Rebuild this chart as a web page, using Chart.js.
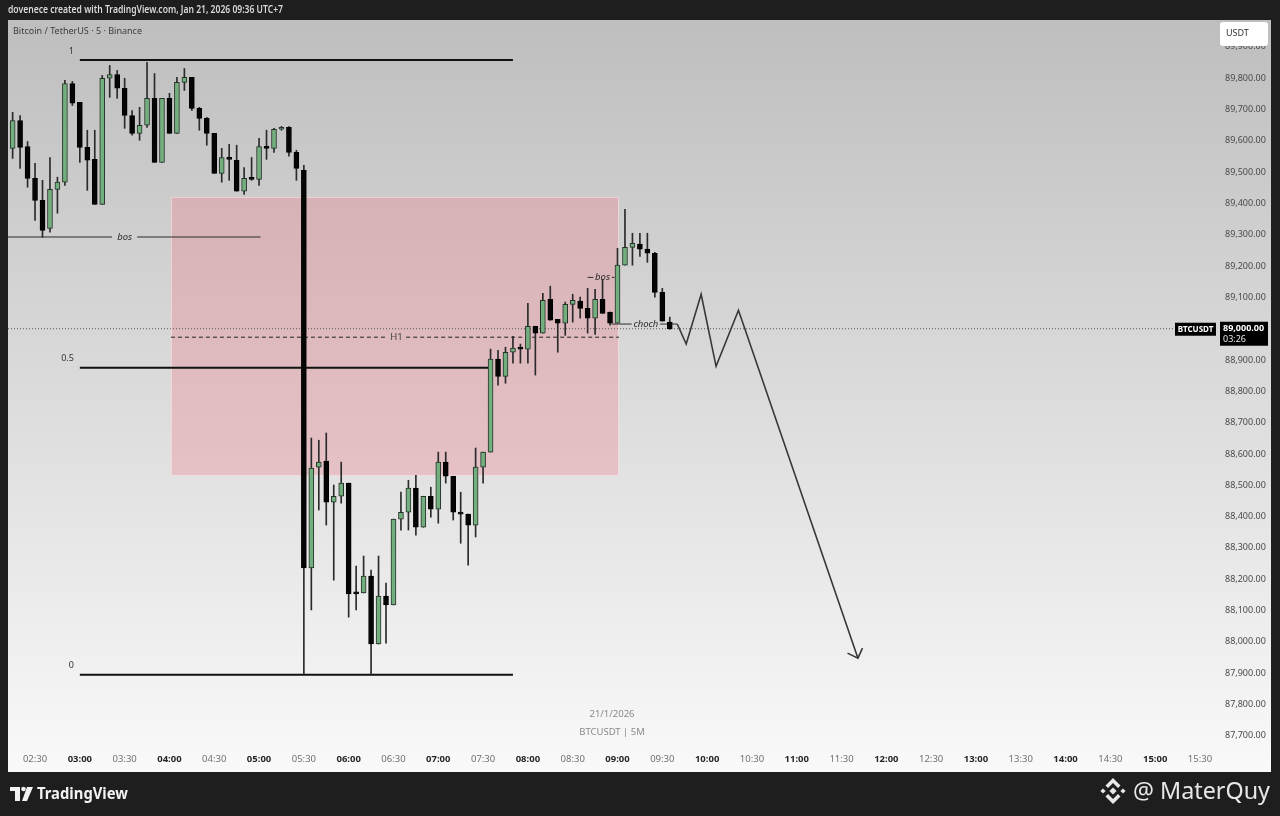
<!DOCTYPE html>
<html>
<head>
<meta charset="utf-8">
<title>BTCUSDT 5m</title>
<script src="https://cdn.jsdelivr.net/npm/chart.js@4.4.1/dist/chart.umd.min.js"></script>
<style>
  html, body { margin: 0; padding: 0; background: #1e1e1e; overflow: hidden; }
  canvas { display: block; }
</style>
</head>
<body>
<canvas id="chart" width="1280" height="816"></canvas>
<script>
// ===== BTCUSDT 5m — Binance, 21/1/2026 (UTC+7) =====

const times = [
  '02:15', '02:20', '02:25', '02:30', '02:35', '02:40', '02:45', '02:50', '02:55',
  '03:00', '03:05', '03:10', '03:15', '03:20', '03:25', '03:30', '03:35', '03:40', '03:45', '03:50', '03:55',
  '04:00', '04:05', '04:10', '04:15', '04:20', '04:25', '04:30', '04:35', '04:40', '04:45', '04:50', '04:55',
  '05:00', '05:05', '05:10', '05:15', '05:20', '05:25', '05:30', '05:35', '05:40', '05:45', '05:50', '05:55',
  '06:00', '06:05', '06:10', '06:15', '06:20', '06:25', '06:30', '06:35', '06:40', '06:45', '06:50', '06:55',
  '07:00', '07:05', '07:10', '07:15', '07:20', '07:25', '07:30', '07:35', '07:40', '07:45', '07:50', '07:55',
  '08:00', '08:05', '08:10', '08:15', '08:20', '08:25', '08:30', '08:35', '08:40', '08:45', '08:50', '08:55',
  '09:00', '09:05', '09:10', '09:15', '09:20', '09:25', '09:30', '09:35',
];

const opens = [
  89576, 89665, 89582, 89480, 89410, 89320, 89445, 89468, 89783, 89723,
  89579, 89541, 89397, 89800, 89812, 89768, 89681, 89624, 89650, 89736,
  89531, 89736, 89624, 89787, 89803, 89704, 89672, 89624, 89496, 89547,
  89538, 89439, 89480, 89477, 89582, 89576, 89637, 89643, 89563, 89506,
  88236, 88558, 88577, 88446, 88465, 88507, 88156, 88156, 88210, 87993,
  88146, 88118, 88392, 88414, 88491, 88366, 88465, 88424, 88574, 88529,
  88414, 88408, 88373, 88558, 88606, 88903, 88848, 88925, 88938, 88935,
  89008, 88986, 89094, 89030, 89018, 89078, 89088, 89065, 89034, 89094,
  89053, 89018, 89203, 89260, 89270, 89254, 89241, 89116, 89021,
];
const highs = [
  89691, 89681, 89598, 89528, 89474, 89547, 89484, 89793, 89790, 89723,
  89634, 89634, 89809, 89841, 89825, 89800, 89697, 89707, 89851, 89815,
  89736, 89752, 89803, 89831, 89803, 89707, 89675, 89624, 89576, 89589,
  89586, 89515, 89547, 89608, 89634, 89640, 89646, 89646, 89570, 89522,
  88651, 88644, 88667, 88501, 88574, 88507, 88242, 88274, 88229, 88274,
  88188, 88392, 88478, 88516, 88532, 88465, 88494, 88606, 88606, 88529,
  88478, 88408, 88619, 88606, 88935, 88931, 88941, 88976, 88951, 89081,
  89008, 89113, 89136, 89030, 89085, 89110, 89101, 89129, 89126, 89158,
  89053, 89257, 89381, 89305, 89305, 89305, 89244, 89129, 89037,
];
const lows = [
  89544, 89512, 89452, 89346, 89292, 89308, 89369, 89458, 89713, 89531,
  89442, 89397, 89397, 89739, 89736, 89640, 89618, 89602, 89643, 89531,
  89531, 89624, 89624, 89761, 89697, 89634, 89586, 89496, 89468, 89474,
  89439, 89429, 89474, 89458, 89541, 89563, 89634, 89551, 89474, 87894,
  88102, 88421, 88373, 88197, 88443, 88079, 88102, 88156, 87894, 87993,
  87996, 88118, 88357, 88357, 88341, 88366, 88398, 88379, 88507, 88389,
  88315, 88245, 88335, 88507, 88606, 88820, 88826, 88890, 88890, 88890,
  88852, 88986, 89027, 88925, 88979, 89021, 89034, 88986, 88982, 89049,
  89011, 89018, 89203, 89203, 89231, 89212, 89101, 89024, 88998,
];
const closes = [
  89665, 89579, 89480, 89410, 89314, 89445, 89468, 89783, 89720, 89579,
  89538, 89397, 89800, 89812, 89768, 89681, 89624, 89650, 89736, 89531,
  89736, 89624, 89787, 89803, 89704, 89672, 89624, 89496, 89547, 89541,
  89439, 89480, 89477, 89582, 89576, 89637, 89643, 89563, 89512, 88236,
  88555, 88574, 88446, 88465, 88507, 88153, 88153, 88210, 87993, 88146,
  88118, 88392, 88414, 88491, 88366, 88465, 88424, 88574, 88529, 88414,
  88408, 88373, 88558, 88606, 88903, 88848, 88925, 88938, 88935, 89008,
  88986, 89091, 89027, 89018, 89078, 89091, 89065, 89034, 89094, 89049,
  89018, 89203, 89260, 89273, 89254, 89241, 89116, 89024, 89000,
];

const timeTicks = [
  '02:30', '03:00', '03:30', '04:00', '04:30', '05:00', '05:30', '06:00', '06:30',
  '07:00', '07:30', '08:00', '08:30', '09:00', '09:30', '10:00', '10:30', '11:00',
  '11:30', '12:00', '12:30', '13:00', '13:30', '14:00', '14:30', '15:00', '15:30',
];
const priceTicks = [
  87700, 87800, 87900, 88000, 88100, 88200, 88300, 88400, 88500, 88600, 88700, 88800,
  88900, 89000, 89100, 89200, 89300, 89400, 89500, 89600, 89700, 89800, 89900,
];

// fib retracement of the 05:30 drop
const fibLabels = ['1', '0.5', '0'];
const fibPrices = [89858, 88875, 87895];
const fibFrom = ['03:00', '03:00', '03:00'];
const fibTo = ['07:50', '07:35', '07:50'];

// H1 supply zone
const zoneFrom = '04:01';
const zoneTo = '09:01';
const zoneHigh = 89421;
const zoneLow = 88530;

// structure marks
const markNames = ['bos', 'bos', 'choch', 'H1'];
const markPrices = [89293, 89164, 89015, 88973];
const markFrom = ['02:05', '08:40', '08:56', '04:01'];
const markTo = ['05:01', '08:58', '09:40', '09:01'];
const markAt = ['03:30', '08:50', '09:19', '06:32'];

// projected path + arrow head
const pathTimes = ['09:40', '09:46', '09:56', '10:06', '10:21', '11:41'];
const pathPrices = [89015, 88951, 89110, 88880, 89059, 87948];
const arrowTimes = ['11:34', '11:41', '11:44'];
const arrowPrices = [87964, 87948, 87980];

const FONT = '"Noto Sans", "Open Sans", sans-serif';
const UP = '#72ae7e';
const DOWN = '#050505';
const markGap = [8.4, 6.2, 9.5, 6.5]; // half gap (minutes) left for each label

function toMin(t) {
  const [h, m] = t.split(':').map(Number);
  return h * 60 + m;
}
function fmtPrice(v) {
  return v.toLocaleString('en-US', { minimumFractionDigits: 2, maximumFractionDigits: 2 });
}
function isHour(v) { return v % 60 === 0; }

const tMin = times.map(toMin);
const isUp = opens.map((o, i) => closes[i] >= o);
const lastClose = closes[closes.length - 1];
const xMin = 131.9, xMax = 941.4;
const yMin = 87661, yMax = 89986;

function lineDs(data, extra) {
  return Object.assign({
    type: 'line', data, pointRadius: 0, borderWidth: 1, borderColor: '#2b2b2b',
    tension: 0, fill: false, spanGaps: false, order: 2,
  }, extra || {});
}
function gapSeg(i) {
  const a = toMin(markAt[i]), g = markGap[i], p = markPrices[i];
  return [
    { x: toMin(markFrom[i]), y: p }, { x: a - g, y: p }, { x: a, y: null },
    { x: a + g, y: p }, { x: toMin(markTo[i]), y: p },
  ];
}

const datasets = [
  {
    type: 'bar', label: 'body',
    data: tMin.map((x, i) => ({ x, y: [opens[i], closes[i]] })),
    backgroundColor: isUp.map(u => u ? UP : DOWN),
    borderColor: isUp.map(u => u ? '#263128' : '#000'),
    borderWidth: 1, borderSkipped: false, barThickness: 5, minBarLength: 2,
    grouped: false, order: 0,
  },
  {
    type: 'bar', label: 'wick',
    data: tMin.map((x, i) => ({ x, y: [lows[i], highs[i]] })),
    backgroundColor: '#2a2a2a', barThickness: 1, grouped: false, order: 1,
  },
  lineDs([{ x: xMin, y: lastClose }, { x: xMax, y: lastClose }], { borderColor: '#555', borderDash: [1, 2], order: 3 }),
  ...fibLabels.map((_, i) => lineDs(
    [{ x: toMin(fibFrom[i]), y: fibPrices[i] }, { x: toMin(fibTo[i]), y: fibPrices[i] }],
    { borderWidth: 2, borderColor: '#111' })),
  ...markNames.map((n, i) => lineDs(gapSeg(i), n === 'H1' ? { borderDash: [4, 3], borderColor: '#222' } : {})),
  lineDs(pathTimes.map((t, i) => ({ x: toMin(t), y: pathPrices[i] })), { borderWidth: 1.6, borderColor: '#383838' }),
  lineDs(arrowTimes.map((t, i) => ({ x: toMin(t), y: arrowPrices[i] })), { borderWidth: 1.6, borderColor: '#383838' }),
];

function fitText(ctx, text, x, y, w) {
  const m = ctx.measureText(text).width;
  ctx.save();
  ctx.translate(x, y);
  ctx.scale(w / m, 1);
  ctx.fillText(text, 0, 0);
  ctx.restore();
}

const decor = {
  id: 'decor',
  beforeDraw(chart) {
    const { ctx, chartArea, scales } = chart;
    const L = chartArea.left, T = chartArea.top, R = scales.y.right, B = scales.x.bottom;
    ctx.save();
    ctx.fillStyle = '#1e1e1e';
    ctx.fillRect(0, 0, chart.width, chart.height);
    const g = ctx.createLinearGradient(0, T, 0, B);
    g.addColorStop(0, '#bebebe');
    g.addColorStop(1, '#f9f9f9');
    ctx.fillStyle = g;
    ctx.fillRect(L, T, R - L, B - T);
    ctx.restore();
  },
  beforeDatasetsDraw(chart) {
    const { ctx, scales: { x, y } } = chart;
    const x0 = x.getPixelForValue(toMin(zoneFrom)), x1 = x.getPixelForValue(toMin(zoneTo));
    const y0 = y.getPixelForValue(zoneHigh), y1 = y.getPixelForValue(zoneLow);
    ctx.save();
    ctx.fillStyle = 'rgba(240, 120, 135, 0.3)';
    ctx.fillRect(x0, y0, x1 - x0, y1 - y0);
    ctx.strokeStyle = 'rgba(255, 240, 242, 0.55)';
    ctx.lineWidth = 1;
    ctx.strokeRect(x0 + 0.5, y0 + 0.5, x1 - x0 - 1, y1 - y0 - 1);
    ctx.restore();
  },
  afterDatasetsDraw(chart) {
    const { ctx, scales: { x, y } } = chart;
    ctx.save();
    ctx.fillStyle = '#333';
    ctx.textBaseline = 'middle';
    ctx.textAlign = 'right';
    ctx.font = `9px ${FONT}`;
    fibLabels.forEach((lab, i) => {
      ctx.fillText(lab, x.getPixelForValue(toMin(fibFrom[i])) - 6, y.getPixelForValue(fibPrices[i]) - 9);
    });
    ctx.textAlign = 'center';
    markNames.forEach((n, i) => {
      ctx.font = (n === 'H1' ? '' : 'italic ') + `9.5px ${FONT}`;
      ctx.fillStyle = n === 'H1' ? '#444' : '#2a2a2a';
      ctx.fillText(n, x.getPixelForValue(toMin(markAt[i])), y.getPixelForValue(markPrices[i]));
    });
    ctx.restore();
  },
  afterDraw(chart) {
    const { ctx, scales: { y } } = chart;
    const yp = y.getPixelForValue(lastClose);
    ctx.save();
    ctx.textBaseline = 'middle';

    // last price tag
    ctx.fillStyle = '#000';
    ctx.fillRect(y.left + 3, yp - 7, 48, 24);
    ctx.fillRect(y.left - 42, yp - 6, 41, 13);
    ctx.fillStyle = '#fff';
    ctx.textAlign = 'left';
    ctx.font = `bold 9px ${FONT}`;
    ctx.fillText(fmtPrice(lastClose), y.left + 6, yp);
    ctx.font = `9px ${FONT}`;
    ctx.fillStyle = '#e6e6e6';
    ctx.fillText('03:26', y.left + 6, yp + 11);
    ctx.fillStyle = '#fff';
    ctx.textAlign = 'center';
    ctx.font = `bold 8px ${FONT}`;
    ctx.fillText('BTCUSDT', y.left - 21.5, yp + 0.5);

    // currency button
    ctx.fillStyle = '#fff';
    ctx.beginPath();
    ctx.roundRect(y.left + 3, 22, 48, 24, 3);
    ctx.fill();
    ctx.fillStyle = '#333';
    ctx.textAlign = 'left';
    ctx.font = `9px ${FONT}`;
    ctx.fillText('USDT', y.left + 9, 33);

    // symbol line
    ctx.fillStyle = '#3d3d3d';
    ctx.font = `9px ${FONT}`;
    fitText(ctx, 'Bitcoin / TetherUS · 5 · Binance', 13, 31, 129);

    // session watermark
    ctx.fillStyle = '#8a8a8a';
    ctx.textAlign = 'center';
    ctx.font = `9.5px ${FONT}`;
    ctx.fillText('21/1/2026', 612, 714);
    ctx.fillText('BTCUSDT | 5M', 612, 732);

    // header
    ctx.textAlign = 'left';
    ctx.fillStyle = '#dadada';
    ctx.font = `600 10.5px ${FONT}`;
    fitText(ctx, 'dovenece created with TradingView.com, Jan 21, 2026 09:36 UTC+7', 8, 10, 275);

    // TradingView logo
    ctx.fillStyle = '#f2f2f2';
    ctx.fillRect(10, 787, 10, 4);
    ctx.fillRect(15, 787, 5, 14);
    ctx.beginPath();
    ctx.arc(23.5, 789, 2.3, 0, Math.PI * 2);
    ctx.fill();
    ctx.beginPath();
    ctx.moveTo(27, 787); ctx.lineTo(33, 787); ctx.lineTo(27, 801); ctx.lineTo(22, 801);
    ctx.closePath();
    ctx.fill();
    ctx.font = `bold 16px ${FONT}`;
    fitText(ctx, 'TradingView', 37, 794, 91);

    // binance mark + handle
    const cx = 1113, cy = 791;
    ctx.fillStyle = '#e8e8e8';
    const diamond = (px, py, r) => {
      ctx.beginPath();
      ctx.moveTo(px, py - r); ctx.lineTo(px + r, py); ctx.lineTo(px, py + r); ctx.lineTo(px - r, py);
      ctx.closePath(); ctx.fill();
    };
    diamond(cx, cy, 3.6);
    diamond(cx - 10, cy, 2.6);
    diamond(cx + 10, cy, 2.6);
    [-1, 1].forEach(s => {
      ctx.beginPath();
      ctx.moveTo(cx, cy + s * 13); ctx.lineTo(cx + 7.5, cy + s * 5.5); ctx.lineTo(cx + 5, cy + s * 3);
      ctx.lineTo(cx, cy + s * 8); ctx.lineTo(cx - 5, cy + s * 3); ctx.lineTo(cx - 7.5, cy + s * 5.5);
      ctx.closePath(); ctx.fill();
    });
    ctx.font = `24px ${FONT}`;
    ctx.fillStyle = '#e8e8e8';
    fitText(ctx, '@ MaterQuy', 1133, 792, 137);
    ctx.restore();
  },
};

new Chart(document.getElementById('chart'), {
  type: 'bar',
  data: { datasets },
  options: {
    responsive: false,
    maintainAspectRatio: false,
    animation: false,
    events: [],
    layout: { padding: { left: 8, top: 20, right: 9, bottom: 44 } },
    plugins: { legend: { display: false }, tooltip: { enabled: false } },
    scales: {
      x: {
        type: 'linear', min: xMin, max: xMax, offset: false,
        grid: { display: false }, border: { display: false },
        afterFit: s => { s.height = 24; },
        afterBuildTicks: s => { s.ticks = timeTicks.map(t => ({ value: toMin(t) })); },
        ticks: {
          autoSkip: false, maxRotation: 0, padding: -2,
          callback: v => timeTicks.find(t => toMin(t) === v) || '',
          color: c => (c.tick && isHour(c.tick.value)) ? '#262626' : '#707070',
          font: c => ({ family: FONT, size: 9.5, weight: (c.tick && isHour(c.tick.value)) ? 'bold' : 'normal' }),
        },
      },
      y: {
        type: 'linear', position: 'right', min: yMin, max: yMax,
        grid: { display: false }, border: { display: false },
        afterFit: s => { s.width = 54; },
        afterBuildTicks: s => { s.ticks = priceTicks.map(v => ({ value: v })); },
        ticks: {
          autoSkip: false, padding: 0, color: '#4a4a4a',
          font: { family: FONT, size: 9 },
          callback: v => fmtPrice(v),
        },
      },
    },
  },
  plugins: [decor],
});
</script>
</body>
</html>
